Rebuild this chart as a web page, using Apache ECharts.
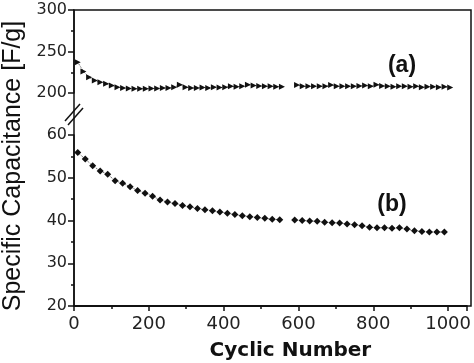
<!DOCTYPE html>
<html>
<head>
<meta charset="utf-8">
<script src="https://cdn.jsdelivr.net/npm/echarts@6/dist/echarts.min.js"></script>
<style>
  html, body { margin: 0; padding: 0; background: #fff; }
  #chart-container { width: 474px; height: 363px; }
</style>
</head>
<body>
<div id="chart-container"></div>
<script>
// (a) upper curve, cycles every 15, gap near 570
var cyclesA = [10, 25, 40, 55, 70, 85, 100, 115, 130, 145, 160, 175, 190, 205, 220, 235, 250, 265, 280, 295,
  310, 325, 340, 355, 370, 385, 400, 415, 430, 445, 460, 475, 490, 505, 520, 535, 550, 570,
  590, 605, 620, 635, 650, 665, 680, 695, 710, 725, 740, 755, 770, 785, 800, 815, 830, 845,
  860, 875, 890, 905, 920, 935, 950, 965, 980, 995];
var capA = [237, 226, 219, 215, 213, 211, 209, 207, 206, 205.5, 205, 205, 205, 205.5, 205.5, 206, 206, 207, 210, 207,
  206, 206, 206.5, 206, 207, 206.5, 207, 208, 207.5, 208, 210, 209, 208.5, 208, 208, 207.5, 207.5, null,
  209.5, 208, 208, 208, 208, 208, 209.5, 208, 208, 208, 208, 208.5, 209, 208, 210, 208.5, 208, 207.5,
  208, 208, 207.5, 208, 207, 207.5, 207.5, 207, 207.5, 206.5];

// (b) lower curve, cycles every 20, gap near 570
var cyclesB = [10, 30, 50, 70, 90, 110, 130, 150, 170, 190, 210, 230, 250, 270, 290, 310, 330, 350, 370, 390,
  410, 430, 450, 470, 490, 510, 530, 550, 570,
  590, 610, 630, 650, 670, 690, 710, 730, 750, 770, 790, 810, 830, 850, 870, 890, 910, 930, 950, 970, 990];
var capB = [55.9, 54.4, 52.8, 51.6, 50.8, 49.3, 48.7, 47.9, 47.0, 46.4, 45.7, 44.8, 44.3, 44.0, 43.5, 43.2, 42.8, 42.5, 42.3, 42.0,
  41.7, 41.4, 41.1, 40.9, 40.7, 40.5, 40.3, 40.2, null,
  40.1, 40.0, 39.9, 39.8, 39.6, 39.5, 39.4, 39.2, 39.0, 38.8, 38.4, 38.3, 38.3, 38.2, 38.3, 38.0, 37.6, 37.4, 37.3, 37.3, 37.3];

var upperTicks = [200, 300, 50];
var lowerTicks = [20, 60, 10];
var xTicks = [0, 1050, 200];

function pairs(xs, ys) {
  return xs.map(function (x, i) {
    return [x, ys[i] == null ? '-' : ys[i]];
  });
}

var dom = document.getElementById("chart-container");
var myChart = echarts.init(dom, null, { renderer: "canvas" });

var axisLineStyle = { show: true, onZero: false, lineStyle: { color: "#111", width: 1.5 } };
var tickStyle = { show: true, length: 6, lineStyle: { color: "#111", width: 1.5 } };
var minorStyle = { show: true, splitNumber: 2, length: 3, lineStyle: { color: "#111", width: 1.5 } };
var labelY = { fontFamily: "DejaVu Sans", fontSize: 16, color: "#222", margin: 7 };

var option = {
  animation: false,
  grid: [
    { left: 74, right: 3, top: 10, height: 83 },
    { left: 74, right: 3, top: 135, height: 171 },
    // outer frame
    { left: 74, right: 3, top: 10, bottom: 57, show: true, borderColor: "#111", borderWidth: 1.5, backgroundColor: "transparent" }
  ],
  xAxis: [
    {
      gridIndex: 0, type: "value",
      min: xTicks[0], max: xTicks[1], interval: xTicks[2],
      axisLine: { show: false }, axisTick: { show: false }, axisLabel: { show: false },
      splitLine: { show: false }
    },
    {
      gridIndex: 1, type: "value",
      min: xTicks[0], max: xTicks[1], interval: xTicks[2],
      axisLine: { show: true, onZero: false, lineStyle: { color: "#111", width: 2 } },
      axisTick: { show: true, length: 5, lineStyle: { color: "#111", width: 1.5 } },
      minorTick: minorStyle,
      axisLabel: {
        fontFamily: "DejaVu Sans", fontSize: 18, color: "#222", margin: 9, showMaxLabel: false,
        formatter: function (v) { return String(v); }
      },
      splitLine: { show: false },
      name: "Cyclic Number", nameLocation: "middle", nameGap: 35,
      nameTextStyle: { fontFamily: "DejaVu Sans", fontWeight: "bold", fontSize: 20, color: "#111", padding: [0, 0, 0, 40] }
    },
    { gridIndex: 2, type: "value", min: 0, max: 1, show: false }
  ],
  yAxis: [
    {
      gridIndex: 0, type: "value",
      min: upperTicks[0], max: upperTicks[1], interval: upperTicks[2],
      axisLine: axisLineStyle, axisTick: tickStyle, minorTick: minorStyle,
      axisLabel: labelY, splitLine: { show: false }
    },
    {
      gridIndex: 1, type: "value",
      min: lowerTicks[0], max: lowerTicks[1], interval: lowerTicks[2],
      axisLine: axisLineStyle, axisTick: tickStyle, minorTick: minorStyle,
      axisLabel: labelY, splitLine: { show: false }
    },
    { gridIndex: 2, type: "value", min: 0, max: 1, show: false }
  ],
  series: [
    {
      name: "(a)", type: "line", xAxisIndex: 0, yAxisIndex: 0,
      data: pairs(cyclesA, capA),
      symbol: "triangle", symbolRotate: -90, symbolSize: 6,
      itemStyle: { color: "#111" },
      lineStyle: { type: "dotted", width: 1, color: "#555" }
    },
    {
      name: "(b)", type: "line", xAxisIndex: 1, yAxisIndex: 1,
      data: pairs(cyclesB, capB),
      symbol: "diamond", symbolSize: 7,
      itemStyle: { color: "#111" },
      lineStyle: { type: "dotted", width: 1, color: "#555" }
    }
  ],
  graphic: [
    { type: "line", shape: { x1: 65, y1: 121, x2: 80, y2: 104 }, style: { stroke: "#111", lineWidth: 1.5 } },
    { type: "line", shape: { x1: 68, y1: 125, x2: 83, y2: 108 }, style: { stroke: "#111", lineWidth: 1.5 } },
    {
      type: "text", x: 13, y: 166, rotation: Math.PI / 2,
      style: { text: "Specific Capacitance [F/g]", font: "25px 'Liberation Sans'", fill: "#111", align: "center", verticalAlign: "middle" }
    },
    { type: "text", x: 402, y: 66, style: { text: "(a)", font: "bold 23px 'Liberation Sans'", fill: "#111", align: "center", verticalAlign: "middle" } },
    { type: "text", x: 392, y: 205, style: { text: "(b)", font: "bold 23px 'Liberation Sans'", fill: "#111", align: "center", verticalAlign: "middle" } }
  ]
};

myChart.setOption(option);
window.addEventListener("resize", myChart.resize);
</script>
</body>
</html>
